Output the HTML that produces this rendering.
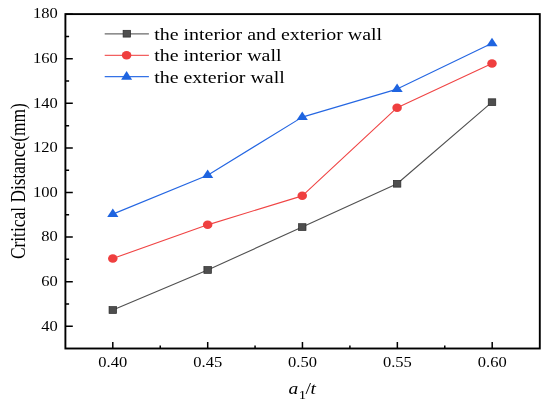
<!DOCTYPE html><html><head><meta charset="utf-8"><style>html,body{margin:0;padding:0;background:#fff;}svg{display:block;}</style></head><body>
<svg width="550" height="407" viewBox="0 0 550 407">
<rect width="550" height="407" fill="#fff"/>
<path d="M65.4 326.21H72.8 M65.4 281.64H72.8 M65.4 237.06H72.8 M65.4 192.49H72.8 M65.4 147.92H72.8 M65.4 103.34H72.8 M65.4 58.77H72.8 M65.4 14.19H72.8 M65.4 303.93H69.1 M65.4 259.35H69.1 M65.4 214.78H69.1 M65.4 170.20H69.1 M65.4 125.63H69.1 M65.4 81.06H69.1 M65.4 36.48H69.1 M112.80 348.5V342.1 M207.70 348.5V342.1 M302.45 348.5V342.1 M397.35 348.5V342.1 M492.20 348.5V342.1 M160.25 348.5V345.6 M255.07 348.5V345.6 M349.90 348.5V345.6 M444.77 348.5V345.6" stroke="#000" stroke-width="1.5" fill="none"/>
<rect x="65.4" y="14.1" width="474.4" height="334.4" fill="none" stroke="#000" stroke-width="1.9"/>
<polyline points="112.80,310.05 207.65,269.95 302.25,227.10 397.10,183.75 492.00,102.20" fill="none" stroke="#505050" stroke-width="1.1" stroke-linejoin="round"/>
<polyline points="112.80,258.50 207.65,224.85 302.25,195.85 397.10,107.65 492.00,63.40" fill="none" stroke="#f04444" stroke-width="1.1" stroke-linejoin="round"/>
<polyline points="112.80,214.13 207.65,175.17 302.25,117.15 397.10,89.10 492.00,43.30" fill="none" stroke="#2466e2" stroke-width="1.1" stroke-linejoin="round"/>
<rect x="109.05" y="306.65" width="7.5" height="6.8" fill="#4e4e4e" stroke="#2a2a2a" stroke-width="0.7"/>
<rect x="203.90" y="266.55" width="7.5" height="6.8" fill="#4e4e4e" stroke="#2a2a2a" stroke-width="0.7"/>
<rect x="298.50" y="223.70" width="7.5" height="6.8" fill="#4e4e4e" stroke="#2a2a2a" stroke-width="0.7"/>
<rect x="393.35" y="180.35" width="7.5" height="6.8" fill="#4e4e4e" stroke="#2a2a2a" stroke-width="0.7"/>
<rect x="488.25" y="98.80" width="7.5" height="6.8" fill="#4e4e4e" stroke="#2a2a2a" stroke-width="0.7"/>
<ellipse cx="112.80" cy="258.50" rx="4.75" ry="4.25" fill="#ef3f3f"/>
<ellipse cx="207.65" cy="224.85" rx="4.75" ry="4.25" fill="#ef3f3f"/>
<ellipse cx="302.25" cy="195.85" rx="4.75" ry="4.25" fill="#ef3f3f"/>
<ellipse cx="397.10" cy="107.65" rx="4.75" ry="4.25" fill="#ef3f3f"/>
<ellipse cx="492.00" cy="63.40" rx="4.75" ry="4.25" fill="#ef3f3f"/>
<path d="M112.80 208.46L118.40 216.96L107.20 216.96Z" fill="#1e64e0"/>
<path d="M207.65 169.50L213.25 178.00L202.05 178.00Z" fill="#1e64e0"/>
<path d="M302.25 111.48L307.85 119.98L296.65 119.98Z" fill="#1e64e0"/>
<path d="M397.10 83.43L402.70 91.93L391.50 91.93Z" fill="#1e64e0"/>
<path d="M492.00 37.63L497.60 46.13L486.40 46.13Z" fill="#1e64e0"/>
<path d="M104.7 33.8H148.9" stroke="#6a6a6a" stroke-width="1.3"/>
<rect x="123.10" y="30.30" width="7.5" height="6.8" fill="#4e4e4e" stroke="#2a2a2a" stroke-width="0.7"/>
<path d="M104.7 55.3H148.9" stroke="#f26060" stroke-width="1.2"/>
<ellipse cx="126.60" cy="55.30" rx="4.75" ry="4.25" fill="#ef3f3f"/>
<path d="M104.7 76.6H148.9" stroke="#3472e6" stroke-width="1.2"/>
<path d="M126.60 70.90L132.10 79.70L121.10 79.70Z" fill="#1e64e0"/>
<g transform="translate(154.20,39.70) scale(1.18,1)"><text x="0" y="0" font-size="16.9" text-anchor="start" style="font-family:'Liberation Serif','Times New Roman',serif">the interior and exterior wall</text></g>
<g transform="translate(154.20,61.45) scale(1.18,1)"><text x="0" y="0" font-size="16.9" text-anchor="start" style="font-family:'Liberation Serif','Times New Roman',serif">the interior wall</text></g>
<g transform="translate(154.20,82.70) scale(1.18,1)"><text x="0" y="0" font-size="16.9" text-anchor="start" style="font-family:'Liberation Serif','Times New Roman',serif">the exterior wall</text></g>
<g transform="translate(57.80,330.51) scale(1.18,1)"><text x="0" y="0" font-size="14" text-anchor="end" style="font-family:'Liberation Serif','Times New Roman',serif">40</text></g>
<g transform="translate(57.80,285.94) scale(1.18,1)"><text x="0" y="0" font-size="14" text-anchor="end" style="font-family:'Liberation Serif','Times New Roman',serif">60</text></g>
<g transform="translate(57.80,241.37) scale(1.18,1)"><text x="0" y="0" font-size="14" text-anchor="end" style="font-family:'Liberation Serif','Times New Roman',serif">80</text></g>
<g transform="translate(57.80,196.79) scale(1.18,1)"><text x="0" y="0" font-size="14" text-anchor="end" style="font-family:'Liberation Serif','Times New Roman',serif">100</text></g>
<g transform="translate(57.80,152.22) scale(1.18,1)"><text x="0" y="0" font-size="14" text-anchor="end" style="font-family:'Liberation Serif','Times New Roman',serif">120</text></g>
<g transform="translate(57.80,107.64) scale(1.18,1)"><text x="0" y="0" font-size="14" text-anchor="end" style="font-family:'Liberation Serif','Times New Roman',serif">140</text></g>
<g transform="translate(57.80,63.07) scale(1.18,1)"><text x="0" y="0" font-size="14" text-anchor="end" style="font-family:'Liberation Serif','Times New Roman',serif">160</text></g>
<g transform="translate(57.80,18.49) scale(1.18,1)"><text x="0" y="0" font-size="14" text-anchor="end" style="font-family:'Liberation Serif','Times New Roman',serif">180</text></g>
<g transform="translate(112.80,366.80) scale(1.18,1)"><text x="0" y="0" font-size="14" text-anchor="middle" style="font-family:'Liberation Serif','Times New Roman',serif">0.40</text></g>
<g transform="translate(207.70,366.80) scale(1.18,1)"><text x="0" y="0" font-size="14" text-anchor="middle" style="font-family:'Liberation Serif','Times New Roman',serif">0.45</text></g>
<g transform="translate(302.45,366.80) scale(1.18,1)"><text x="0" y="0" font-size="14" text-anchor="middle" style="font-family:'Liberation Serif','Times New Roman',serif">0.50</text></g>
<g transform="translate(397.35,366.80) scale(1.18,1)"><text x="0" y="0" font-size="14" text-anchor="middle" style="font-family:'Liberation Serif','Times New Roman',serif">0.55</text></g>
<g transform="translate(492.20,366.80) scale(1.18,1)"><text x="0" y="0" font-size="14" text-anchor="middle" style="font-family:'Liberation Serif','Times New Roman',serif">0.60</text></g>
<g transform="translate(288.6,393.7) scale(1.18,1)"><text x="0" y="0" font-size="16.5" style="font-family:'Liberation Serif','Times New Roman',serif"><tspan font-style="italic">a</tspan><tspan font-size="12.5" dx="0.4" dy="5.2">1</tspan><tspan dy="-5.2" dx="-0.6" font-size="16.8">/</tspan><tspan font-style="italic" dx="-0.4">t</tspan></text></g>
<g transform="translate(24.7,259.1) scale(1.18,1) rotate(-90)"><text x="0" y="0" font-size="17.4" style="font-family:'Liberation Serif','Times New Roman',serif">Critical Distance(mm)</text></g>
</svg></body></html>
